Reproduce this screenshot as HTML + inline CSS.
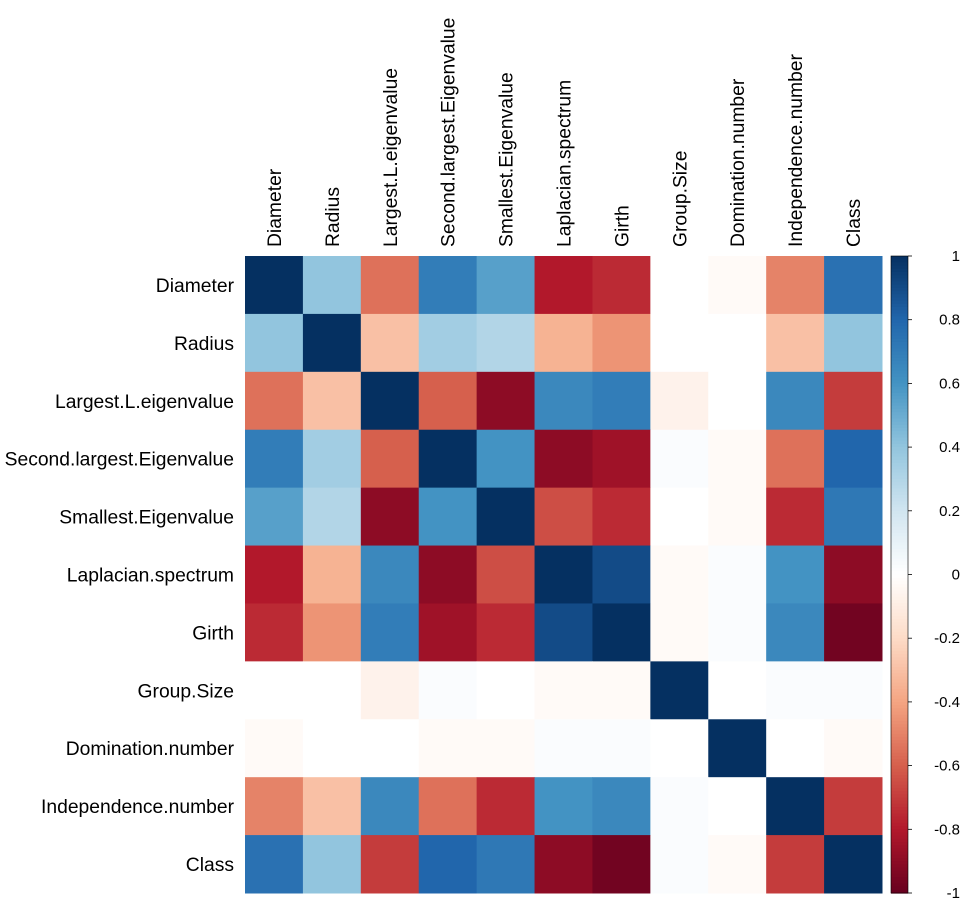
<!DOCTYPE html>
<html><head><meta charset="utf-8"><style>
body{margin:0;background:#fff;width:965px;height:906px;overflow:hidden}
svg text{font-family:"Liberation Sans",sans-serif;fill:#000}
</style></head><body>
<svg id="chart" width="965" height="906" xmlns="http://www.w3.org/2000/svg"></svg>
<script>
const labels=["Diameter","Radius","Largest.L.eigenvalue","Second.largest.Eigenvalue","Smallest.Eigenvalue","Laplacian.spectrum","Girth","Group.Size","Domination.number","Independence.number","Class"];
const row0=[1,0.4,-0.55,0.7,0.55,-0.8,-0.75,0.0,-0.03,-0.5,0.75];
const row1=[0.4,1,-0.3,0.35,0.3,-0.35,-0.45,0.0,0.0,-0.3,0.4];
const row2=[-0.55,-0.3,1,-0.6,-0.9,0.65,0.7,-0.07,0.0,0.65,-0.7];
const row3=[0.7,0.35,-0.6,1,0.6,-0.9,-0.85,0.02,-0.03,-0.55,0.8];
const row4=[0.55,0.3,-0.9,0.6,1,-0.65,-0.75,0.0,-0.03,-0.75,0.72];
const row5=[-0.8,-0.35,0.65,-0.9,-0.65,1,0.9,-0.03,0.02,0.6,-0.9];
const row6=[-0.75,-0.45,0.7,-0.85,-0.75,0.9,1,-0.03,0.02,0.65,-0.97];
const row7=[0.0,0.0,-0.07,0.02,0.0,-0.03,-0.03,1,0,0.02,0.02];
const row8=[-0.03,0.0,0.0,-0.03,-0.03,0.02,0.02,0,1,0.0,-0.03];
const row9=[-0.5,-0.3,0.65,-0.55,-0.75,0.6,0.65,0.02,0.0,1,-0.7];
const row10=[0.75,0.4,-0.7,0.8,0.72,-0.9,-0.97,0.02,-0.03,-0.7,1];
const matrix=[row0,row1,row2,row3,row4,row5,row6,row7,row8,row9,row10];
const ticks=[1,0.8,0.6,0.4,0.2,0,-0.2,-0.4,-0.6,-0.8,-1];
const pal=["#67001F","#B2182B","#D6604D","#F4A582","#FDDBC7","#FFFFFF","#D1E5F0","#92C5DE","#4393C3","#2166AC","#053061"];
function hex(h){return [1,3,5].map(i=>parseInt(h.substr(i,2),16));}
function color(v){const t=(v+1)/2*(pal.length-1);const i=Math.min(pal.length-2,Math.floor(t));const f=t-i;const a=hex(pal[i]),b=hex(pal[i+1]);return "rgb("+a.map((c,k)=>Math.round(c+(b[k]-c)*f)).join(",")+")";}
const L=245,T=256,R=882,B=893,n=labels.length,cw=(R-L)/n,ch=(B-T)/n;
const X=j=>L+j*cw, Y=i=>T+i*ch;
const svg=document.getElementById('chart');const NS="http://www.w3.org/2000/svg";
function mk(tag,attrs){const e=document.createElementNS(NS,tag);for(const k in attrs)e.setAttribute(k,attrs[k]);svg.appendChild(e);return e;}
matrix.forEach((r,i)=>r.forEach((v,j)=>{
 const e=mk('rect',{x:X(j),y:Y(i),width:cw+0.5,height:ch+0.5,fill:color(v)});
 
 
}));
labels.forEach((l,i)=>{
 const t=mk('text',{x:234,y:Y(i)+ch/2+7,'text-anchor':'end','font-size':19.3});t.textContent=l;
 
 
 const cx=X(i)+cw/2+7;
 const c=mk('text',{x:cx,y:247,'font-size':19.3,transform:`rotate(-90 ${cx} 247)`});c.textContent=l;
 
 
});
const cbx=891,cbw=17,steps=200;
for(let k=0;k<steps;k++){const v=1-2*(k+0.5)/steps;
 const e=mk('rect',{x:cbx,y:T+k*(B-T)/steps,width:cbw,height:(B-T)/steps+0.6,fill:color(v)});
 
 }
const cb=mk('rect',{x:cbx,y:T,width:cbw,height:B-T,fill:'none',stroke:'#000','stroke-width':0.6});


const CY=v=>T+(1-v)/2*(B-T);
ticks.forEach(v=>{
 const ln=mk('line',{x1:cbx+cbw,x2:cbx+cbw+4,y1:CY(v),y2:CY(v),stroke:'#000','stroke-width':0.8});
 
 
 const t=mk('text',{x:960,y:CY(v)+5,'text-anchor':'end','font-size':15});t.textContent=String(v);
 
 
});
</script>
</body></html>
